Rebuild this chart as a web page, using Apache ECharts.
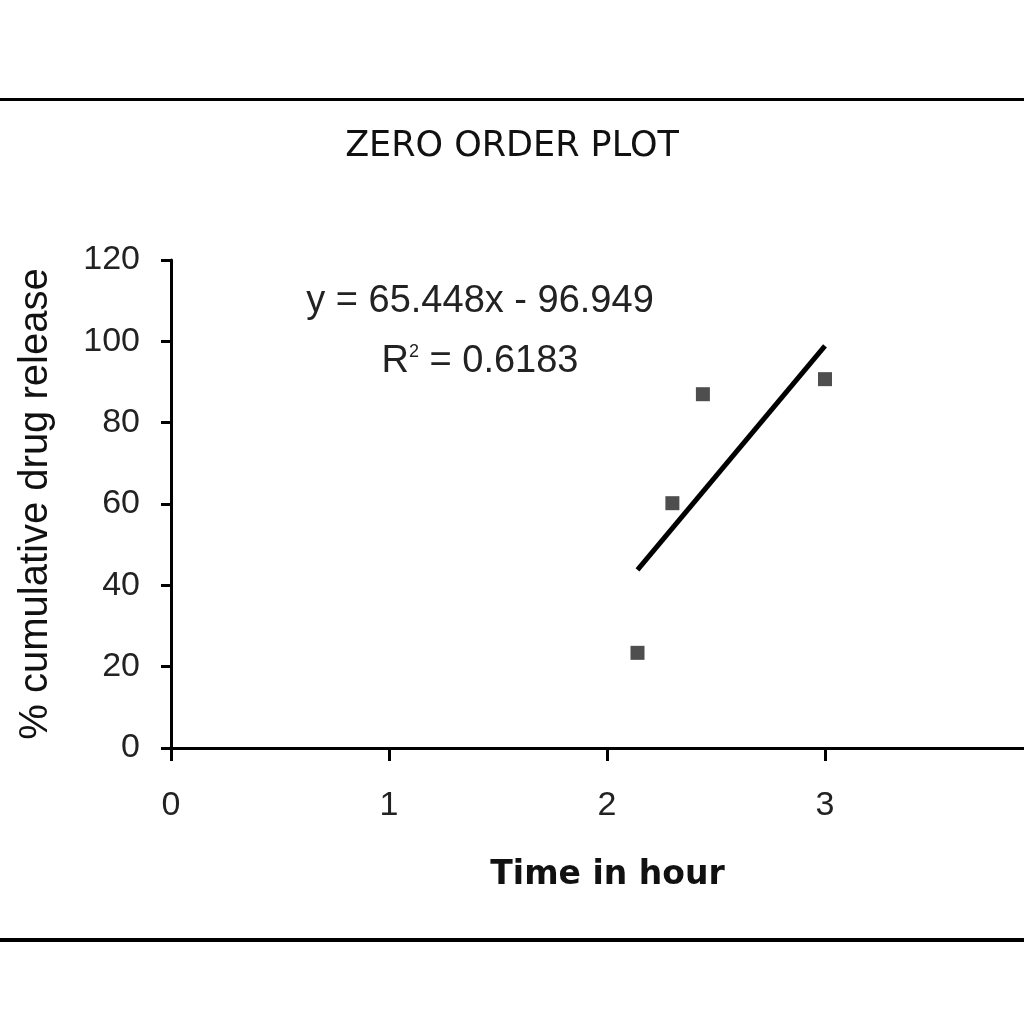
<!DOCTYPE html>
<html lang="en">
<head>
    <meta charset="UTF-8"/>
    <script src="https://cdn.jsdelivr.net/npm/echarts@6/dist/echarts.min.js"></script>
    <title>Zero Order Plot</title>
    <style>
        html, body{
            margin: 0;
            padding: 0;
            background: #fff;
        }
        #chart{
            width: 1024px;
            height: 1024px;
        }
    </style>
</head>
<body>
<div id="chart"></div>
<script type="text/javascript">
    // observed points (time in hour, % cumulative drug release)
    var timeHours = [2.14, 2.30, 2.44, 3.00];
    var releasePct = [23.4, 60.2, 87.0, 90.7];
    // linear trendline end points as drawn
    var trendX = [2.14, 3.00];
    var trendY = [43.8, 98.9];
    var xTicks = [0, 1, 2, 3];
    var yTicks = [0, 20, 40, 60, 80, 100, 120];
    // the x axis runs off the right edge of the picture (cropped near 3.9)
    var xVisibleMax = 3.913;
    var equationText = 'y = 65.448x - 96.949';
    var r2Text = 'R{sup|2} = 0.6183';

    var font = '"Liberation Sans", Arial, sans-serif';
    var wideFont = '"DejaVu Sans", "Liberation Sans", sans-serif';

    var points = [];
    for (var i = 0; i < timeHours.length; i++) {
        points.push([timeHours[i], releasePct[i]]);
    }
    var trend = [];
    for (var j = 0; j < trendX.length; j++) {
        trend.push([trendX[j], trendY[j]]);
    }

    var myChart = echarts.init(document.getElementById('chart'));
    var option = {
        backgroundColor: '#fff',
        animation: false,
        title: {
            text: 'ZERO ORDER PLOT',
            left: 'center',
            top: 124,
            textStyle: {
                fontFamily: wideFont,
                fontSize: 35,
                fontWeight: 'normal',
                color: '#111'
            }
        },
        grid: {
            left: 171,
            top: 260,
            right: 0,
            bottom: 276
        },
        xAxis: {
            type: 'value',
            min: 0,
            max: xVisibleMax,
            interval: 1,
            name: 'Time in hour',
            nameLocation: 'middle',
            nameGap: 111,
            nameTextStyle: {
                fontFamily: wideFont,
                fontSize: 33,
                fontWeight: 'bold',
                color: '#111',
                padding: [0, 0, 0, 20]
            },
            axisLine: {lineStyle: {color: '#000', width: 3}},
            axisTick: {
                show: true,
                inside: false,
                length: 13,
                customValues: xTicks,
                lineStyle: {color: '#000', width: 3}
            },
            axisLabel: {
                margin: 41,
                customValues: xTicks,
                fontFamily: font,
                fontSize: 34,
                color: '#222'
            },
            splitLine: {show: false}
        },
        yAxis: {
            type: 'value',
            min: yTicks[0],
            max: yTicks[yTicks.length - 1],
            interval: 20,
            name: '% cumulative drug release',
            nameLocation: 'middle',
            nameGap: 115,
            nameRotate: 90,
            nameTextStyle: {
                fontFamily: font,
                fontSize: 40,
                color: '#111'
            },
            axisLine: {show: true, lineStyle: {color: '#000', width: 3}},
            axisTick: {show: true, inside: false, length: 10, lineStyle: {color: '#000', width: 3}},
            axisLabel: {
                margin: 31,
                fontFamily: font,
                fontSize: 34,
                color: '#222'
            },
            splitLine: {show: false}
        },
        graphic: [
            {
                type: 'rect',
                shape: {x: 0, y: 98, width: 1024, height: 3},
                style: {fill: '#000'}
            },
            {
                type: 'rect',
                shape: {x: 0, y: 938, width: 1024, height: 4},
                style: {fill: '#000'}
            },
            {
                type: 'text',
                x: 480,
                y: 302,
                style: {
                    text: equationText,
                    fontFamily: font,
                    fontSize: 38,
                    fill: '#222',
                    align: 'center',
                    verticalAlign: 'middle'
                }
            },
            {
                type: 'text',
                x: 480,
                y: 362,
                style: {
                    text: r2Text,
                    fontFamily: font,
                    fontSize: 38,
                    fill: '#222',
                    align: 'center',
                    verticalAlign: 'middle',
                    rich: {
                        sup: {
                            fontFamily: font,
                            fontSize: 18,
                            verticalAlign: 'top',
                            padding: [0, 0, 20, 0]
                        }
                    }
                }
            }
        ],
        series: [
            {
                name: 'trend',
                type: 'line',
                data: trend,
                symbol: 'none',
                lineStyle: {color: '#000', width: 5},
                z: 2
            },
            {
                name: 'release',
                type: 'scatter',
                data: points,
                symbol: 'rect',
                symbolSize: 14,
                itemStyle: {color: '#222'},
                z: 3
            }
        ]
    };
    myChart.setOption(option);
</script>
</body>
</html>
